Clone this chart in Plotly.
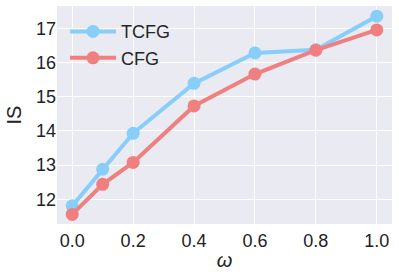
import plotly.graph_objects as go

omega = [0.0, 0.1, 0.2, 0.4, 0.6, 0.8, 1.0]
tcfg = [11.81, 12.88, 13.93, 15.39, 16.28, 16.37, 17.35]
cfg = [11.56, 12.44, 13.08, 14.73, 15.66, 16.36, 16.95]
x_ticks = [0.0, 0.2, 0.4, 0.6, 0.8, 1.0]
y_ticks = [12, 13, 14, 15, 16, 17]

FONT = "Liberation Sans, Arial, sans-serif"

fig = go.Figure()
fig.add_trace(go.Scatter(x=omega, y=tcfg, name="TCFG", mode="lines+markers",
                         line=dict(color="#87CEFA", width=4),
                         marker=dict(color="#87CEFA", size=13)))
fig.add_trace(go.Scatter(x=omega, y=cfg, name="CFG", mode="lines+markers",
                         line=dict(color="#F08080", width=4),
                         marker=dict(color="#F08080", size=13)))

fig.update_layout(
    width=399, height=278,
    margin=dict(l=57, r=7, t=6, b=54),
    paper_bgcolor="white", plot_bgcolor="#EAEAF2",
    font=dict(family=FONT, size=18, color="#222222"),
    legend=dict(x=0.024, y=0.967, xanchor="left", yanchor="top", itemwidth=46,
                bgcolor="rgba(0,0,0,0)", font=dict(size=18, color="#262626")),
    xaxis=dict(range=[-0.05, 1.05], tickvals=x_ticks, ticktext=["0.0", "0.2", "0.4", "0.6", "0.8", "1.0"],
               showgrid=True, gridcolor="white", gridwidth=1.3, zeroline=False,
               showline=False, ticks="", ticklabelstandoff=4,
               title=dict(text="<i>ω</i>", font=dict(size=20), standoff=2)),
    yaxis=dict(range=[11.28, 17.65], tickvals=y_ticks,
               showgrid=True, gridcolor="white", gridwidth=1.3, zeroline=False,
               showline=False, ticks="",
               title=dict(text="IS", font=dict(size=20), standoff=8)),
)

fig.write_html("out.html", config={"displayModeBar": False},
               post_script="document.body.style.margin='0';")
